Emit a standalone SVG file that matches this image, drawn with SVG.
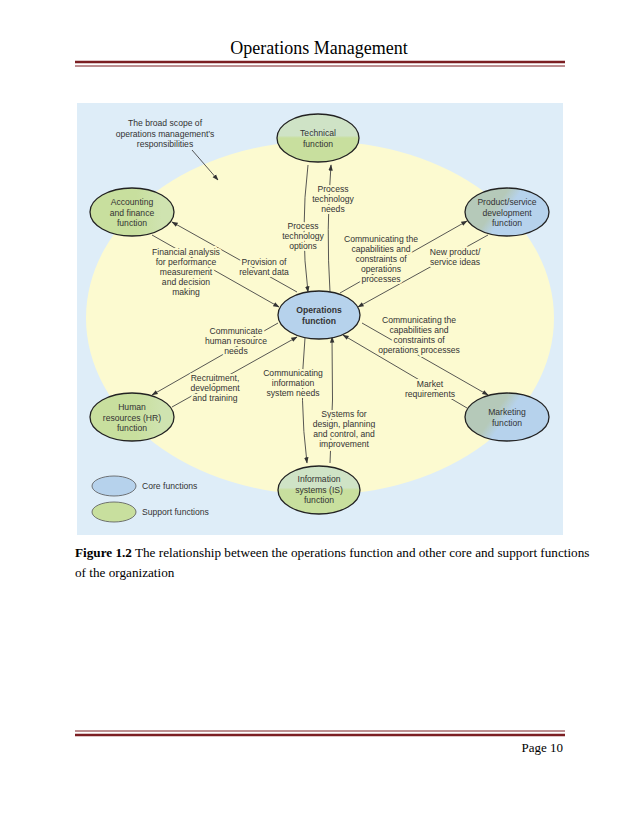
<svg xmlns="http://www.w3.org/2000/svg" width="638" height="826" viewBox="0 0 638 826">
<style>
.hd{font-family:"Liberation Serif",serif;fill:#000}
.t{font-family:"Liberation Sans",Arial,sans-serif;font-size:8.6px;fill:#333;text-anchor:middle}
.ls{text-anchor:start}
.lb{paint-order:stroke;stroke:#fcfad0;stroke-width:4px;stroke-linejoin:round}
.n{stroke:#222;stroke-width:1.3}
.c{fill:none;stroke:#444;stroke-width:0.9;marker-end:url(#ah)}
</style>
<defs>
<marker id="ah" viewBox="0 0 10 10" refX="9" refY="5" markerWidth="7" markerHeight="7" orient="auto"><path d="M0,1.5 L10,5 L0,8.5 z" fill="#333"/></marker>
<linearGradient id="gm" x1="0" y1="0" x2="1" y2="0.4"><stop offset="0.45" stop-color="#b5c9b9"/><stop offset="0.6" stop-color="#b6d2ec"/></linearGradient>
<linearGradient id="gt" x1="0" y1="0" x2="0" y2="1"><stop offset="0.45" stop-color="#cfe3c6"/><stop offset="0.5" stop-color="#c8df9e"/></linearGradient>
<linearGradient id="gs" x1="0" y1="0" x2="1" y2="0"><stop offset="0.55" stop-color="#c8df9e"/><stop offset="0.85" stop-color="#cfe3b0"/></linearGradient>
</defs>
<rect width="638" height="826" fill="#fff"/>
<text class="hd" x="319" y="54" font-size="18" text-anchor="middle">Operations Management</text>
<line x1="75" y1="62" x2="565" y2="62" stroke="#7b1e22" stroke-width="2.5"/>
<line x1="75" y1="66" x2="565" y2="66" stroke="#7b1e22" stroke-width="1"/>
<rect x="77" y="103" width="486" height="432" fill="#deedf8"/>
<ellipse cx="320" cy="318" rx="234" ry="177" fill="#fcfad0"/>
<g id="connectors">
<path class="c" d="M308,165 Q300,230 308,292"/>
<path class="c" d="M330,292 Q326,230 331,165"/>
<path class="c" d="M297,292 L172,222"/>
<path class="c" d="M152,235 L279,307"/>
<path class="c" d="M340,293 L467,221"/>
<path class="c" d="M488,235 L358,307"/>
<path class="c" d="M362,323 L488,395"/>
<path class="c" d="M467,408 L343,335"/>
<path class="c" d="M278,323 L152,395"/>
<path class="c" d="M172,407 L297,337"/>
<path class="c" d="M305,338 Q299,400 307,463"/>
<path class="c" d="M330,463 Q334,400 332,337"/>
<path class="c" d="M192,150 L218,180"/>
</g>
<g id="labels">
<text class="t" x="165" y="126">The broad scope of<tspan x="165" dy="10.5">operations management’s</tspan><tspan x="165" dy="10.5">responsibilities</tspan></text>
<text class="t lb" x="333" y="192">Process<tspan x="333" dy="10">technology</tspan><tspan x="333" dy="10">needs</tspan></text>
<text class="t lb" x="303" y="229">Process<tspan x="303" dy="10">technology</tspan><tspan x="303" dy="10">options</tspan></text>
<text class="t lb" x="186" y="255">Financial analysis<tspan x="186" dy="10">for performance</tspan><tspan x="186" dy="10">measurement</tspan><tspan x="186" dy="10">and decision</tspan><tspan x="186" dy="10">making</tspan></text>
<text class="t lb" x="264" y="265">Provision of<tspan x="264" dy="10">relevant data</tspan></text>
<text class="t lb" x="381" y="242">Communicating the<tspan x="381" dy="10">capabilities and</tspan><tspan x="381" dy="10">constraints of</tspan><tspan x="381" dy="10">operations</tspan><tspan x="381" dy="10">processes</tspan></text>
<text class="t lb" x="455" y="255">New product/<tspan x="455" dy="10">service ideas</tspan></text>
<text class="t lb" x="419" y="323">Communicating the<tspan x="419" dy="10">capabilities and</tspan><tspan x="419" dy="10">constraints of</tspan><tspan x="419" dy="10">operations processes</tspan></text>
<text class="t lb" x="236" y="334">Communicate<tspan x="236" dy="10">human resource</tspan><tspan x="236" dy="10">needs</tspan></text>
<text class="t lb" x="215" y="381">Recruitment,<tspan x="215" dy="10">development</tspan><tspan x="215" dy="10">and training</tspan></text>
<text class="t lb" x="293" y="376">Communicating<tspan x="293" dy="10">information</tspan><tspan x="293" dy="10">system needs</tspan></text>
<text class="t lb" x="430" y="387">Market<tspan x="430" dy="10">requirements</tspan></text>
<text class="t lb" x="344" y="417">Systems for<tspan x="344" dy="10">design, planning</tspan><tspan x="344" dy="10">and control, and</tspan><tspan x="344" dy="10">improvement</tspan></text>
</g>
<g id="technical"><ellipse class="n" cx="318" cy="138" rx="41" ry="24" fill="url(#gt)"/><text class="t" x="318" y="136">Technical<tspan x="318" dy="10.5">function</tspan></text></g>
<g id="accounting"><ellipse class="n" cx="132" cy="212" rx="42" ry="24" fill="url(#gs)"/><text class="t" x="132" y="205">Accounting<tspan x="132" dy="10.5">and finance</tspan><tspan x="132" dy="10.5">function</tspan></text></g>
<g id="product"><ellipse class="n" cx="507" cy="212" rx="42" ry="24" fill="url(#gm)"/><text class="t" x="507" y="205">Product/service<tspan x="507" dy="10.5">development</tspan><tspan x="507" dy="10.5">function</tspan></text></g>
<g id="operations"><ellipse class="n" cx="319" cy="315" rx="41" ry="24" fill="#b6d2ec"/><text class="t" x="319" y="313" font-weight="bold" fill="#222">Operations<tspan x="319" dy="10.5">function</tspan></text></g>
<g id="hr"><ellipse class="n" cx="132" cy="417" rx="42" ry="24" fill="url(#gs)"/><text class="t" x="132" y="410">Human<tspan x="132" dy="10.5">resources (HR)</tspan><tspan x="132" dy="10.5">function</tspan></text></g>
<g id="marketing"><ellipse class="n" cx="507" cy="417" rx="42" ry="24" fill="url(#gm)"/><text class="t" x="507" y="415">Marketing<tspan x="507" dy="10.5">function</tspan></text></g>
<g id="is"><ellipse class="n" cx="319" cy="490" rx="41" ry="24" fill="url(#gt)"/><text class="t" x="319" y="482">Information<tspan x="319" dy="10.5">systems (IS)</tspan><tspan x="319" dy="10.5">function</tspan></text></g>
<g id="legend">
<ellipse cx="114" cy="486" rx="22" ry="10" fill="#b6d2ec" stroke="#555" stroke-width="0.8"/>
<text class="t ls" x="142" y="489">Core functions</text>
<ellipse cx="114" cy="512" rx="22" ry="10" fill="#c8df9e" stroke="#555" stroke-width="0.8"/>
<text class="t ls" x="142" y="515">Support functions</text>
</g>
<text class="hd" x="75" y="557" font-size="13.2"><tspan font-weight="bold">Figure 1.2</tspan> The relationship between the operations function and other core and support functions</text>
<text class="hd" x="75" y="577" font-size="13.2">of the organization</text>
<line x1="75" y1="731" x2="565" y2="731" stroke="#7b1e22" stroke-width="1"/>
<line x1="75" y1="735" x2="565" y2="735" stroke="#7b1e22" stroke-width="2.5"/>
<text class="hd" x="563" y="752" font-size="13" text-anchor="end">Page 10</text>
</svg>
